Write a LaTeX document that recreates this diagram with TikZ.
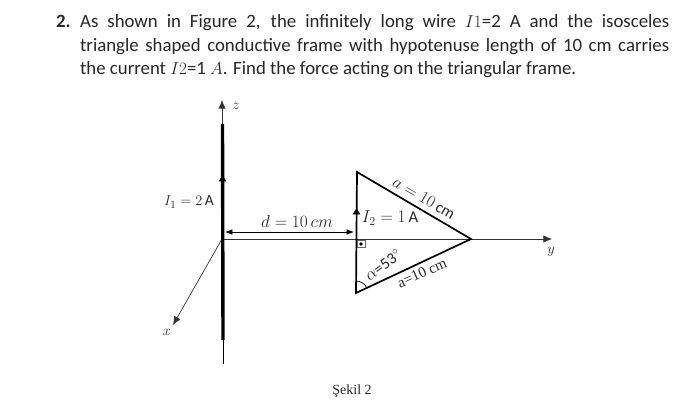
\documentclass[tikz,border=0pt]{standalone}
\usepackage{amsmath}
\usepackage{fontspec}
\setmainfont{Carlito}
\newfontfamily\capfont{Liberation Serif}
\usetikzlibrary{arrows.meta}
\tikzset{
  axisline/.style={line width=0.7pt, color=black!80, -{Latex[length=3mm, width=2.6mm]}},
  wireline/.style={line width=3.4pt},
  frameline/.style={line width=1.7pt, line join=miter},
  currenttip/.style={-{Latex[length=2.2mm, width=2.8mm]}},
  bodytext/.style={anchor=north west, inner sep=0pt, text width=589pt, align=justify, font=\fontsize{18.8}{23.6}\selectfont, text=black!85},
  mathlabel/.style={inner sep=0pt, font=\fontsize{15.5}{18}\selectfont, text=black!85},
}

\begin{document}
\begin{tikzpicture}[x=1pt, y=-1pt]
  \useasboundingbox (0, 0) rectangle (700, 403);

  \node[inner sep=0pt, anchor=north west, font=\fontsize{18.8}{23.6}\selectfont\bfseries, text=black!85] (number) at (56, 14.5) {2.};
  \node[bodytext] (question) at (80, 14.5) {As shown in Figure 2, the infinitely long wire $I1$=2 A and the isosceles\linebreak
    triangle shaped conductive frame with hypotenuse length of 10 cm carries\linebreak
    the current $I2$=1 $A$. Find the force acting on the triangular frame.};

  \coordinate (O) at (222, 239);
  \coordinate (Ztop) at (222, 100);
  \coordinate (Ybase) at (552, 239);
  \coordinate (Xtip) at (173, 325);
  \coordinate (wiretop) at (222.5, 124);
  \coordinate (wirebot) at (223, 340);
  \coordinate (wireend) at (223, 364);
  \coordinate (wirearrow) at (222.5, 175);
  \coordinate (A) at (357, 172);
  \coordinate (B) at (471, 239);
  \coordinate (C) at (356, 293);
  \coordinate (framearrow) at (356.5, 208);
  \coordinate (dleft) at (225, 232);
  \coordinate (dright) at (354, 232);

  % axes
  \draw[axisline] (O) -- (Ztop);
  \draw[axisline] (O) -- (Ybase);
  \draw[axisline] (O) -- (Xtip);
  \draw[line width=0.7pt] (wirebot) -- (wireend);

  % wire and frame
  \draw[wireline] (wiretop) -- (wirebot);
  \draw[currenttip] (222.5, 190) -- (wirearrow);
  \draw[frameline] (A) -- (B) -- (C) -- cycle;
  \draw[currenttip] (356.5, 220) -- (framearrow);
  \draw[line width=0.7pt, {Latex[length=2.6mm]}-{Latex[length=2.6mm]}] (dleft) -- (dright);

  \draw[line width=0.5pt, color=black!60] (357.5, 240) rectangle (365, 247.5);
  \fill (361, 244) circle (1.8);
  \draw[line width=0.7pt] (356, 281) arc[start angle=-90, end angle=-25, radius=12];

  \node[mathlabel] (zlabel) at (236, 106) {$z$};
  \node[mathlabel] (ylabel) at (551, 252) {$y$};
  \node[mathlabel] (xlabel) at (167, 332) {$x$};
  \node[mathlabel] (Ione) at (189, 202) {$I_1=2\,\text{A}$};
  \node[mathlabel, font=\fontsize{16.5}{18}\selectfont] (dlabel) at (297, 221) {$d=10\,cm$};
  \node[mathlabel, font=\fontsize{16.5}{18}\selectfont] (Itwo) at (390, 218) {$I_2=1\,\text{A}$};
  \node[mathlabel, rotate=-30, font=\fontsize{16}{18}\selectfont] (toplabel) at (424, 198) {$a=10\,\text{cm}$};
  \node[mathlabel, rotate=24, font=\capfont\fontsize{15}{17}\selectfont] (botlabel) at (422, 273) {a=10 cm};
  \node[mathlabel, rotate=36, font=\fontsize{16}{18}\selectfont] (anglelabel) at (383, 265) {$\alpha$=53$^\circ$};
  \node[inner sep=0pt, font=\capfont\fontsize{14}{16}\selectfont, text=black!85] (caption) at (352, 391) {Şekil 2};
\end{tikzpicture}
\end{document}
